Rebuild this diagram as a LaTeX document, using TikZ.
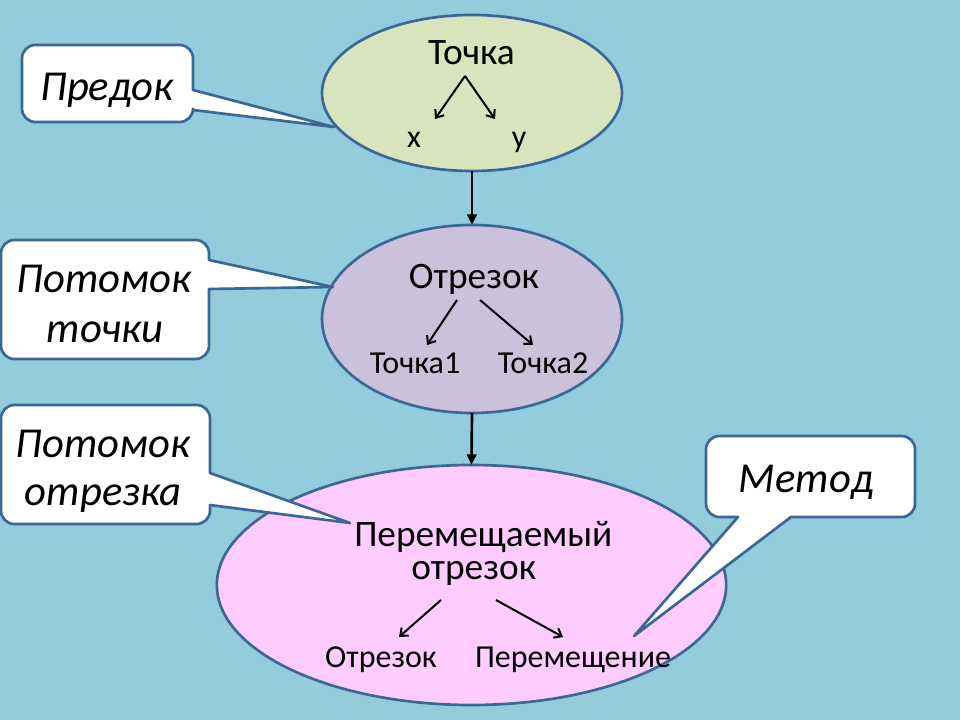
\documentclass[tikz,border=0pt]{standalone}
\usepackage{fontspec}
\setmainfont{Carlito}
\usetikzlibrary{shapes.geometric,arrows.meta}
\definecolor{bgc}{HTML}{93CDDD}
\definecolor{edgec}{HTML}{3B6695}
\definecolor{greenf}{HTML}{D7E4BD}
\definecolor{purplef}{HTML}{CCC1DA}
\definecolor{pinkf}{HTML}{FFCCFF}
\tikzset{
  oval/.style={ellipse, draw=edgec, line width=2pt, inner sep=0pt, outer sep=0pt},
  lbl/.style={anchor=base, inner sep=0pt, font=\fontsize{24}{28}\selectfont},
  biglbl/.style={anchor=base, inner sep=0pt, font=\fontsize{28}{32}\selectfont},
  calltxt/.style={anchor=base, inner sep=0pt, font=\fontsize{32}{38}\selectfont\itshape},
  callout/.style={draw=edgec, fill=white, line width=2pt, line join=round},
  mainarrow/.style={line width=2pt, -{Triangle[length=8pt,width=7pt]}},
  subarrow/.style={line width=1.5pt, -{Straight Barb[length=5pt,width=8pt]}}
}
\begin{document}
\begin{tikzpicture}[x=0.75pt,y=-0.75pt]
\fill[bgc] (0,0) rectangle (960,720);
\useasboundingbox (0,0) rectangle (960,720);

% ellipses
\node[oval, fill=greenf, minimum width=225pt, minimum height=117pt] (e1) at (472,93) {};
\node[oval, fill=purplef, minimum width=225pt, minimum height=141pt] (e2) at (472,319) {};
\node[oval, fill=pinkf, minimum width=382pt, minimum height=180pt] (e3) at (471.5,585) {};

\draw[mainarrow] (e1.south) -- (e2.north);
\draw[mainarrow] (e2.south) -- (e3.north);

% texts in ellipse 1
\node[biglbl] (t1) at (471.5,65) {Точка};
\node[lbl] (t1x) at (414,148) {x};
\node[lbl] (t1y) at (519,148) {y};
\coordinate (a1) at (465,76);
\coordinate (a1l) at (435,119);
\coordinate (a1r) at (495,119);
\draw[subarrow] (a1) -- (a1l);
\draw[subarrow] (a1) -- (a1r);

% texts in ellipse 2
\node[biglbl] (t2) at (474,288) {Отрезок};
\node[lbl] (t21) at (415,373) {Точка1};
\node[lbl] (t22) at (543,373) {Точка2};
\coordinate (b1s) at (457,300);
\coordinate (b1e) at (427,345);
\coordinate (b2s) at (480,300);
\coordinate (b2e) at (533,345);
\draw[subarrow] (b1s) -- (b1e);
\draw[subarrow] (b2s) -- (b2e);

% texts in ellipse 3
\node[anchor=north west, inner sep=0pt, align=left, font=\fontsize{28}{24.75}\selectfont] (t3) at (354,521)
  {Перемещаемый\\\hspace*{42.75pt}отрезок};
\node[lbl] (t31) at (381,667) {Отрезок};
\node[lbl] (t32) at (573,667) {Перемещение};
\coordinate (c1s) at (441,600);
\coordinate (c1e) at (399,637);
\coordinate (c2s) at (496,600);
\coordinate (c2e) at (563,637);
\draw[subarrow] (c1s) -- (c1e);
\draw[subarrow] (c2s) -- (c2e);

% callout 1: Предок
\coordinate (p1tip) at (334,127);
\draw[callout, rounded corners=10] (22,84) -- (22,45) -- (193,45) [sharp corners] -- (193,90) -- (p1tip) -- (193,110) [rounded corners=10] -- (193,122) -- (22,122) -- cycle;
\node[calltxt] (c1) at (107,101) {Предок};

% callout 2: Потомок точки
\coordinate (p2tip) at (333,287);
\draw[callout, rounded corners=10] (1,300) -- (1,240) -- (209,240) [sharp corners] -- (209,260) -- (p2tip) -- (209,289) [rounded corners=10] -- (209,359) -- (1,359) -- cycle;
\node[calltxt] (c2a) at (104,292) {Потомок};
\node[calltxt] (c2b) at (105,342) {точки};

% callout 3: Потомок отрезка
\coordinate (p3tip) at (350,523);
\draw[callout, rounded corners=10] (1,465) -- (1,405) -- (210,405) [sharp corners] -- (210,473) -- (p3tip) -- (210,505) [rounded corners=10] -- (210,524) -- (1,524) -- cycle;
\node[calltxt] (c3a) at (103,457) {Потомок};
\node[calltxt] (c3b) at (103,505) {отрезка};

% callout 4: Метод
\coordinate (p4tip) at (634,636);
\draw[callout, rounded corners=10] (706,476) -- (706,436) -- (915,436) -- (915,517) [sharp corners] -- (791,517) -- (p4tip) -- (738,517) [rounded corners=10] -- (706,517) -- cycle;
\node[calltxt] (c4) at (806,492) {Метод};
\end{tikzpicture}
\end{document}
